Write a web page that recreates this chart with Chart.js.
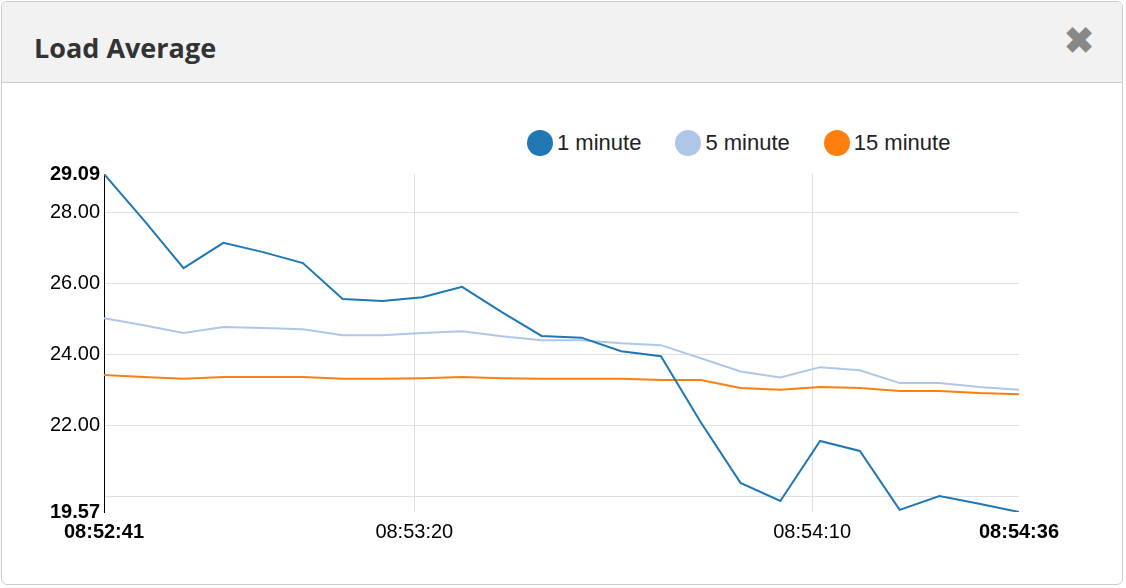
<!DOCTYPE html>
<html><head><meta charset="utf-8">
<script src="https://cdn.jsdelivr.net/npm/chart.js@4"></script>
<style>
body{margin:0;background:#fff;font-family:"Liberation Sans",Arial,sans-serif;}
#panel{position:absolute;left:1px;top:1px;width:1120px;height:582px;border:1px solid #ccc;border-radius:6px;overflow:hidden;}
#head{height:80px;background:#f2f2f2;border-bottom:1px solid #ccc;position:relative;}
#title{position:absolute;left:32px;top:27px;font-size:27px;font-weight:bold;color:#333;font-family:"Open Sans",sans-serif;}
#close{position:absolute;right:28px;top:18px;font-size:36px;color:#888;font-weight:bold;}
#legend{position:absolute;top:130px;left:527px;font-size:22px;color:#222;display:flex;gap:0;}
.li{display:flex;align-items:center;margin-right:34px}
.dot{width:26px;height:26px;border-radius:50%;display:inline-block;margin-right:4px}
#wrap{position:absolute;left:4px;top:84px;width:1118px;height:500px;}
</style></head><body>
<div id="panel"><div id="head"><div id="title">Load Average</div><div id="close">✖</div></div></div>
<div id="legend"><div class="li"><span class="dot" style="background:#1f77b4"></span>1 minute</div><div class="li"><span class="dot" style="background:#aec7e8"></span>5 minute</div><div class="li"><span class="dot" style="background:#ff7f0e"></span>15 minute</div></div>
<div id="wrap"><canvas id="c"></canvas></div>
<script>
const startTime = 41; // seconds after 08:52:00
const seconds = [0,5,10,15,20,25,30,35,40,45,50,55,60,65,70,75,80,85,90,95,100,105,110,115];
const oneMinute = [29.09,27.79,26.44,27.15,26.89,26.58,25.57,25.51,25.62,25.91,25.20,24.53,24.48,24.10,23.96,22.10,20.39,19.88,21.57,21.29,19.63,20.02,19.80,19.57];
const fiveMinute = [25.03,24.83,24.61,24.78,24.75,24.72,24.55,24.55,24.61,24.66,24.52,24.41,24.41,24.32,24.27,23.90,23.53,23.36,23.65,23.56,23.20,23.20,23.09,23.01];
const fifteenMinute = [23.43,23.37,23.32,23.37,23.37,23.37,23.32,23.32,23.34,23.37,23.34,23.32,23.32,23.32,23.29,23.29,23.06,23.01,23.09,23.06,22.98,22.98,22.92,22.89];
const xTicks = [0,39,89,115];
const yTicks = [19.57,20,22,24,26,28,29.09];
function fmtTime(s){const t=8*3600+52*60+startTime+s;const h=Math.floor(t/3600),m=Math.floor(t%3600/60),ss=t%60;return [h,m,ss].map(v=>String(v).padStart(2,'0')).join(':');}
const pts = a => a.map((v,i)=>({x:seconds[i],y:v}));
const ds=(l,d,c)=>({label:l,data:pts(d),borderColor:c,backgroundColor:c,borderWidth:2,pointRadius:0,tension:0});
new Chart(document.getElementById('c'),{type:'line',
data:{datasets:[ds('1 minute',oneMinute,'#1f77b4'),ds('5 minute',fiveMinute,'#aec7e8'),ds('15 minute',fifteenMinute,'#ff7f0e')]},
options:{responsive:true,maintainAspectRatio:false,animation:false,
layout:{padding:{top:90,bottom:42,right:103,left:0}},
plugins:{legend:{display:false},tooltip:{enabled:false}},
scales:{
x:{type:'linear',min:0,max:115,afterFit:s=>{s.height=30},
 afterBuildTicks:s=>{s.ticks=xTicks.map(v=>({value:v}))},
 grid:{color:c=>(c.tick&&(c.tick.value===39||c.tick.value===89))?'#e0e0e0':'rgba(0,0,0,0)',drawTicks:false},
 border:{display:false},
 ticks:{maxRotation:0,autoSkip:false,padding:8,color:'#000',callback:v=>fmtTime(v),
  font:c=>({size:20,family:'"Liberation Sans",Arial',weight:(c.tick&&(c.tick.value===0||c.tick.value===115))?'bold':'normal'})}},
y:{min:19.57,max:29.09,afterFit:s=>{s.width=100},
 afterBuildTicks:s=>{s.ticks=yTicks.map(v=>({value:v}))},
 grid:{color:c=>(c.tick&&[20,22,24,26,28].includes(c.tick.value))?'#e0e0e0':'rgba(0,0,0,0)',drawTicks:false},
 border:{display:true,color:'#000',width:1},
 ticks:{autoSkip:false,padding:4,color:'#000',callback:v=>v===20?'':v.toFixed(2),
  font:c=>({size:20,family:'"Liberation Sans",Arial',weight:(c.tick&&(c.tick.value===19.57||c.tick.value===29.09))?'bold':'normal'})}}
}}});
</script></body></html>
